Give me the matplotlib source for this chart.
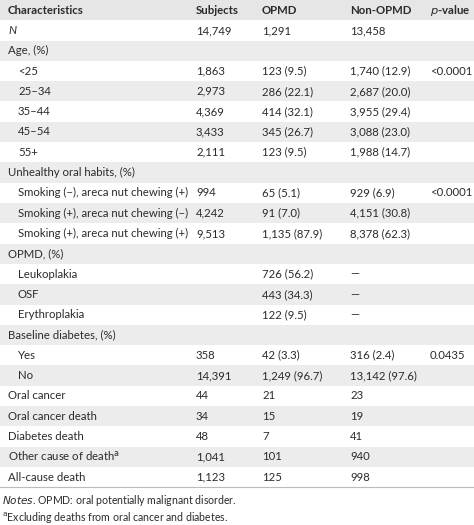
import matplotlib
matplotlib.use("Agg")
import matplotlib.pyplot as plt
from matplotlib.patches import Rectangle

header = ["Characteristics", "Subjects", "OPMD", "Non-OPMD", "p-value"]
labels = ["N", "Age, (%)", "<25", "25–34", "35–44", "45–54", "55+",
          "Unhealthy oral habits, (%)", "Smoking (−), areca nut chewing (+)",
          "Smoking (+), areca nut chewing (−)", "Smoking (+), areca nut chewing (+)",
          "OPMD, (%)", "Leukoplakia", "OSF", "Erythroplakia",
          "Baseline diabetes, (%)", "Yes", "No", "Oral cancer", "Oral cancer death",
          "Diabetes death", "Other cause of death$^{\\mathrm{a}}$", "All-cause death"]
indent = [0,0,1,1,1,1,1,0,1,1,1,0,1,1,1,0,1,1,0,0,0,0,0]
subjects = ["14,749","","1,863","2,973","4,369","3,433","2,111","","994","4,242","9,513",
            "","","","","","358","14,391","44","34","48","1,041","1,123"]
opmd = ["1,291","","123 (9.5)","286 (22.1)","414 (32.1)","345 (26.7)","123 (9.5)","",
        "65 (5.1)","91 (7.0)","1,135 (87.9)","","726 (56.2)","443 (34.3)","122 (9.5)",
        "","42 (3.3)","1,249 (96.7)","21","15","7","101","125"]
nonopmd = ["13,458","","1,740 (12.9)","2,687 (20.0)","3,955 (29.4)","3,088 (23.0)","1,988 (14.7)","",
           "929 (6.9)","4,151 (30.8)","8,378 (62.3)","","—","—","—",
           "","316 (2.4)","13,142 (97.6)","23","19","41","940","998"]
pvals = ["","","<0.0001","","","","","","<0.0001","","","","","","","","0.0435","","","","","",""]

W, H = 474, 525
fig = plt.figure(figsize=(W/100, H/100), dpi=100)
ax = fig.add_axes([0, 0, 1, 1])
ax.set_xlim(0, W); ax.set_ylim(H, 0); ax.axis("off")
plt.rcParams['font.family'] = ['Lato', 'DejaVu Sans']
col = "#2b2b2b"
rh = 20.3
xs = [8, 196, 262, 350, 430]
fs = 8.2

ax.add_patch(Rectangle((0, 0), W, rh, color="#e6e6e6", lw=0))
for j, h in enumerate(header):
    if j == 4:
        ax.text(xs[j], rh/2, "$\\it{p}$-value", fontsize=fs, fontweight="bold", va="center", color=col)
    else:
        ax.text(xs[j], rh/2, h, fontsize=fs, fontweight="bold", va="center", color=col)

for i in range(len(labels)):
    y0 = rh*(i+1)
    if i % 2 == 1:
        ax.add_patch(Rectangle((0, y0), W, rh, color="#ececec", lw=0))
    yc = y0 + rh/2
    lab = labels[i]
    style = "italic" if lab == "N" else "normal"
    ax.text(xs[0] + (10 if indent[i] else 0), yc, lab, fontsize=fs, va="center", color=col, style=style)
    for j, arr in enumerate([subjects, opmd, nonopmd, pvals]):
        ax.text(xs[j+1], yc, arr[i], fontsize=fs, va="center", color=col)

yb = rh*(len(labels)+1)
ax.plot([0, W], [yb, yb], color="#bbbbbb", lw=0.8)
ax.text(2, yb+13, "$\\it{Notes}$. OPMD: oral potentially malignant disorder.", fontsize=7.6, va="center", color=col)
ax.text(2, yb+30, "$^{\\mathrm{a}}$Excluding deaths from oral cancer and diabetes.", fontsize=7.6, va="center", color=col)

fig.savefig("out.png", dpi=100)
